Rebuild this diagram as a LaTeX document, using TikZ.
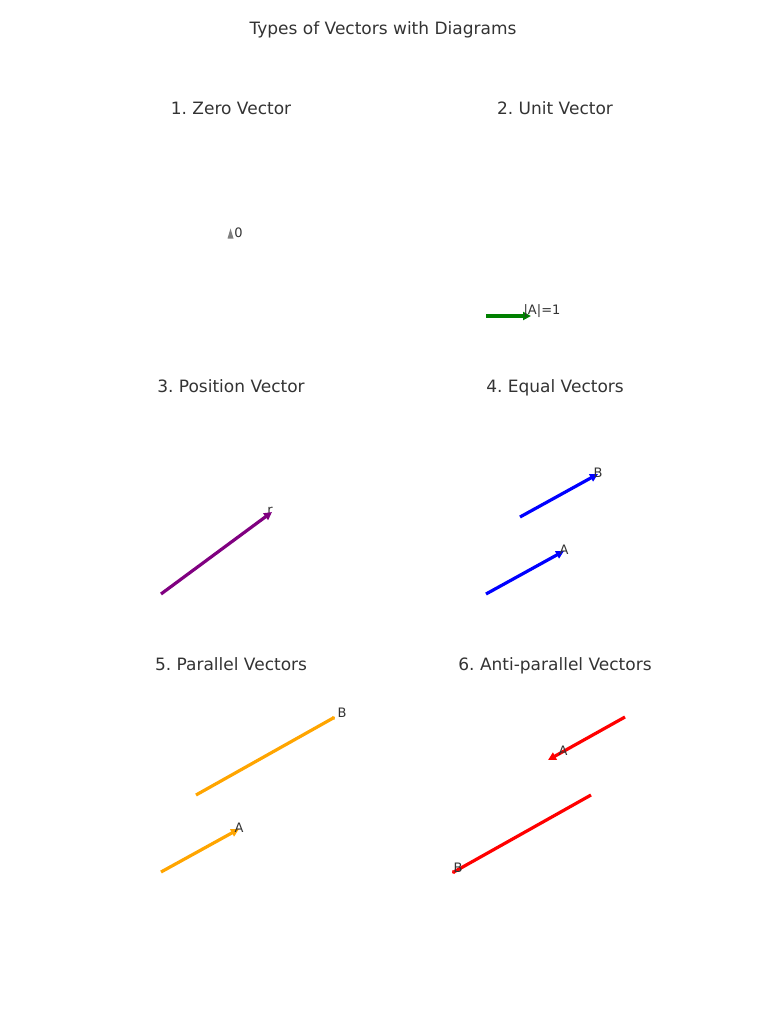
\documentclass[tikz,border=0pt]{standalone}
\usepackage{fontspec}
\setmainfont{DejaVu Sans}
\usepackage{tikz}
\usetikzlibrary{positioning,
				arrows.meta,
				calc}
\frenchspacing
\definecolor{txtgray}{HTML}{333333}
\definecolor{vorange}{HTML}{FFA500}
\definecolor{vgreen}{HTML}{008000}
\definecolor{vpurple}{HTML}{800080}
\tikzset{
	paneltitle/.style={font=\fontsize{17}{19}\selectfont, text=txtgray, inner sep=0pt, anchor=base},
	veclabel/.style={font=\fontsize{13}{15}\selectfont, text=txtgray, inner sep=0pt},
	vec/.style={line width=3.2pt, -{Triangle[length=8pt,width=8pt]}},
	flatvec/.style={line width=3.2pt, -{Triangle[length=2pt,width=4.5pt]}}
}

\begin{document}
\begin{tikzpicture}[x=1pt, y=-1pt]
			\useasboundingbox (0,0) rectangle (768,1024);
			% titles
			\node[paneltitle] (main) at (383,35) {Types of Vectors with Diagrams};
			\node[paneltitle] (t1) at (231,115) {1. Zero Vector};
			\node[paneltitle] (t2) at (555,115) {2. Unit Vector};
			\node[paneltitle] (t3) at (231,392) {3. Position Vector};
			\node[paneltitle] (t4) at (555,392) {4. Equal Vectors};
			\node[paneltitle] (t5) at (231,670) {5. Parallel Vectors};
			\node[paneltitle] (t6) at (555,670) {6. Anti-parallel Vectors};
			% 1. zero vector
			\coordinate (zero) at (230.5,233.5);
			\fill[gray] ($(zero)+(-3,5)$) -- ($(zero)+(0,-5)$) -- ($(zero)+(3,5)$) -- cycle;
			\node[veclabel] (lzero) at (238.5,233) {0};
			% 2. unit vector
			\coordinate (u0) at (486,316);
			\coordinate (u1) at (531,316);
			\draw[vec, vgreen] (u0) -- (u1);
			\node[veclabel] (lunit) at (542,311) {|A|=1};
			% 3. position vector
			\coordinate (o) at (161,594);
			\coordinate (p) at (272,512);
			\node[veclabel] (lr) at (270,511) {r};
			\draw[vec, vpurple] (o) -- (p);
			% 4. equal vectors
			\coordinate (ea0) at (486,594);
			\coordinate (ea1) at (564,551);
			\coordinate (eb0) at (520,517);
			\coordinate (eb1) at (598,474);
			\draw[vec, blue] (ea0) -- (ea1);
			\draw[vec, blue] (eb0) -- (eb1);
			\node[veclabel] (lea) at (564,550) {A};
			\node[veclabel] (leb) at (598,473) {B};
			% 5. parallel vectors
			\coordinate (pa0) at (161,872);
			\coordinate (pa1) at (239,829);
			\coordinate (pb0) at (196,795);
			\coordinate (pb1) at (335,717);
			\draw[vec, vorange] (pa0) -- (pa1);
			\draw[flatvec, vorange] (pb0) -- (pb1);
			\node[veclabel] (lpa) at (239,828) {A};
			\node[veclabel] (lpb) at (342,713) {B};
			% 6. anti-parallel vectors
			\coordinate (aa0) at (625,717);
			\coordinate (aa1) at (548,760);
			\coordinate (ab0) at (591,795);
			\coordinate (ab1) at (452,873);
			\draw[vec, red] (aa0) -- (aa1);
			\draw[flatvec, red] (ab0) -- (ab1);
			\node[veclabel] (laa) at (563,751) {A};
			\node[veclabel] (lab) at (458,868) {B};
		\end{tikzpicture}
\end{document}
